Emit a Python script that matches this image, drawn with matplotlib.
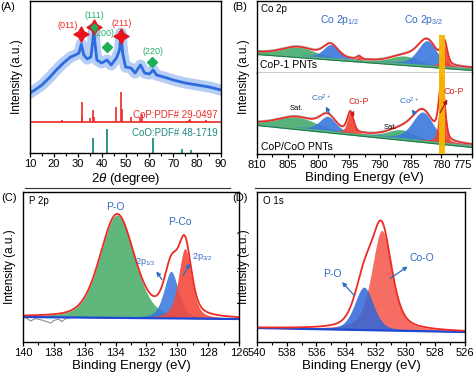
import numpy as np
import matplotlib
matplotlib.use("Agg")
import matplotlib.pyplot as plt
from matplotlib import font_manager
from matplotlib.ticker import MultipleLocator

names = {f.name for f in font_manager.fontManager.ttflist}
FONT = "Liberation Sans Narrow" if "Liberation Sans Narrow" in names else "Liberation Sans"
plt.rcParams["font.family"] = [FONT, "DejaVu Sans"]
plt.rcParams["mathtext.fontset"] = "custom"
plt.rcParams["mathtext.rm"] = FONT
plt.rcParams["mathtext.it"] = FONT + ":italic"

# ---------------- (A) XRD ----------------
xrd_2theta = [10, 12, 15, 18, 21, 24, 27, 29, 30.5, 31.5, 32.5, 34, 35.5, 36.3, 36.7,
              37.2, 38, 40, 42.3, 44, 46.2, 47.5, 48.1, 48.8, 50, 52.3, 54, 56.3, 58,
              60, 61.6, 63, 66, 70, 75, 80, 85, 90]
xrd_counts = [60, 63, 68, 75, 83, 90, 96, 98, 100, 109, 98, 94, 96, 112, 125,
              110, 93, 90, 93, 88, 95, 103, 120, 100, 86, 85, 80, 88, 80,
              79, 83, 78, 76, 73, 70, 68, 66, 63]

cop_pos = [23.5, 31.6, 31.9, 35.3, 36.3, 36.7, 45.1, 46.2, 48.1, 48.4, 52.3, 56.0,
           56.8, 58.2, 62.0, 64.6, 68.8, 72.0, 75.9, 76.6, 77.1, 77.6, 80.0, 83.7]
cop_int = [2, 20.5, 5, 4.5, 12, 5, 1, 15.5, 30.5, 13, 5.5, 5,
           8.5, 1, 1, 0.6, 0.6, 0.6, 1, 2, 3, 1.2, 1, 2]
cop_base = 31
coo_pos = [36.5, 42.4, 61.5, 73.7, 77.6]
coo_int = [15, 24, 15, 4, 3]

cop_star_x = [31.3, 36.6, 48.0]
cop_star_y = [119, 126, 117]
coo_dia_x = [42.1, 61.2]
coo_dia_y = [106, 91]
red_hkl = ["(011)", "(211)"]
red_hkl_x = [25.9, 48.4]
red_hkl_y = [128, 130]
green_hkl = ["(111)", "(200)", "(220)"]
green_hkl_x = [36.9, 41.2, 61.6]
green_hkl_y = [137, 119, 102]

# ---------------- (B) Co 2p ----------------
# components: centre (eV), height, fwhm
b1_base = [21, 5]
b1_sat_c, b1_sat_h, b1_sat_w = [803.3, 786.0], [8, 7], [6.0, 5.0]
b1_blue_c, b1_blue_h, b1_blue_w = [798.0, 782.3], [13, 24], [2.8, 3.6]
b1_red_c, b1_red_h, b1_red_w = [793.4, 779.5], [3, 21], [0.8, 1.1]

b2_base = [31, 9]
b2_sat_c, b2_sat_h, b2_sat_w = [803.5, 786.5], [10, 8], [7.0, 5.0]
b2_blue_c, b2_blue_h, b2_blue_w = [798.5, 783.0], [14, 28], [3.0, 4.0]
b2_red_c, b2_red_h, b2_red_w = [794.8, 779.9], [20, 58], [1.2, 1.1]

band_center = 779.9
b_ticks = [810, 805, 800, 795, 790, 785, 780, 775]

# ---------------- (C) P 2p ----------------
c_base = [25, 23]
c_cen = [133.9, 130.4, 129.5]
c_hgt = [103, 47, 70]
c_fwhm = [2.6, 1.1, 1.0]
c_eta = [0.3, 0.5, 0.5]
c_raw_x = [140, 139.8, 139.5, 139.2, 138.8, 138.5, 138.2, 138.0, 137.7, 137.5, 137.2, 136.9, 136.6]
c_raw_y = [25, 24, 21, 23.5, 22, 20.5, 19, 21.5, 23, 20.5, 23.5, 24.5, 26]

# ---------------- (D) O 1s ----------------
d_base = [14, 10]
d_cen = [532.8, 531.6]
d_hgt = [43, 100]
d_fwhm = [1.5, 1.6]
d_eta = [0.4, 0.5]

RED = "#ee2a24"
BLUE = "#3b78dd"
GREEN = "#3aa564"
TXTBLUE = "#2f6cc4"
TICK_FS = 8
XLAB_FS = 9.5
YLAB_FS = 8.5


def pv(x, c, h, w, eta=0.3):
    g = np.exp(-4 * np.log(2) * (x - c) ** 2 / w ** 2)
    l = 1 / (1 + 4 * (x - c) ** 2 / w ** 2)
    return h * (eta * l + (1 - eta) * g)


def frame(ax, lw=1.0):
    for s in ax.spines.values():
        s.set_linewidth(lw)
    ax.set_yticks([])
    ax.tick_params(axis="x", direction="out", length=3, width=0.9, pad=1.5, labelsize=TICK_FS)
    ax.tick_params(axis="x", which="minor", length=2, width=0.8)


W, H = 474, 377
fig = plt.figure(figsize=(W / 100, H / 100), dpi=100)


def box(l, t, r, b):
    return [l / W, 1 - b / H, (r - l) / W, (b - t) / H]


# ---- A ----
axA = fig.add_axes(box(30, 1, 221, 153))
frame(axA)
axA.set_xlim(10, 90)
axA.set_ylim(0, 152)
axA.xaxis.set_major_locator(MultipleLocator(10))
axA.xaxis.set_minor_locator(MultipleLocator(5))
axA.plot(xrd_2theta, xrd_counts, color="#7aa6f0", lw=8, alpha=0.55, solid_joinstyle="round")
axA.plot(xrd_2theta, xrd_counts, color="#2d6be0", lw=2.0)
axA.axhline(cop_base, color=RED, lw=1.2)
axA.vlines(cop_pos, cop_base, [cop_base + v for v in cop_int], color=RED, lw=1.2)
axA.vlines(coo_pos, 0, coo_int, color="#1f8a7e", lw=1.3)
axA.plot(cop_star_x, cop_star_y, ls="none", marker=(4, 1, 0), ms=11, color="#e8141c")
axA.plot(cop_star_x[1], cop_star_y[1], ls="none", marker="D", ms=3.5, color="#1fae55")
axA.plot(coo_dia_x, coo_dia_y, ls="none", marker="D", ms=5.5, color="#1fae55")
for t, x, y in zip(red_hkl, red_hkl_x, red_hkl_y):
    axA.text(x, y, t, color=RED, fontsize=6.5, ha="center", va="center")
for t, x, y in zip(green_hkl, green_hkl_x, green_hkl_y):
    axA.text(x, y, t, color="#27b36a", fontsize=6.5, ha="center", va="center")
axA.text(88.7, 38, "CoP:PDF# 29-0497", color=RED, fontsize=7, ha="right", va="center")
axA.text(88.7, 20, "CoO:PDF# 48-1719", color="#1f8a7e", fontsize=7, ha="right", va="center")
axA.set_xlabel(r"2$\theta$ (degree)", fontsize=XLAB_FS, labelpad=1)
axA.set_ylabel("Intensity (a.u.)", fontsize=YLAB_FS, labelpad=5)

# ---- B ----
xb = np.linspace(810, 775, 700)


def xps_b(ax, base, sat, blue, red, ymax, band_top):
    bg = np.interp(xb, [775, 810], base[::-1])
    sat_sum = sum(pv(xb, c, h, w, 0.1) for c, h, w in zip(*sat))
    blue_sum = [pv(xb, c, h, w, 0.3) for c, h, w in zip(*blue)]
    red_sum = [pv(xb, c, h, w, 0.3) for c, h, w in zip(*red)]
    ax.fill_between(xb, bg - 2.5, bg + sat_sum, color=GREEN, alpha=0.85, lw=0)
    ax.plot(xb, bg - 2.5, color="#1f7a4a", lw=0.8)
    for comp in blue_sum:
        ax.fill_between(xb, bg, bg + comp, where=comp > 0.3, color=BLUE, alpha=0.9, lw=0)
    for comp in red_sum:
        ax.fill_between(xb, bg, bg + comp, where=comp > 0.3, color="#f2442e", alpha=0.9, lw=0)
    env = bg + sat_sum + sum(blue_sum) + sum(red_sum)
    ax.plot(xb, env + 0.8, color="#b0a8a8", lw=1.0)
    ax.plot(xb, env, color=RED, lw=1.2)
    ax.set_xlim(810, 775)
    ax.set_ylim(0, ymax)
    ax.axvspan(band_center - 0.45, band_center + 0.45, ymin=0, ymax=band_top,
               color="#f7b500", alpha=0.95, lw=0, zorder=3)


axB1 = fig.add_axes(box(257, 1, 472, 73))
frame(axB1)
xps_b(axB1, b1_base, (b1_sat_c, b1_sat_h, b1_sat_w), (b1_blue_c, b1_blue_h, b1_blue_w),
      (b1_red_c, b1_red_h, b1_red_w), 72, 0.53)
axB1.set_xticks([])
axB1.text(0.02, 0.96, "Co 2p", transform=axB1.transAxes, fontsize=7, va="top")
axB1.text(796.6, 53, r"Co 2p$_{1/2}$", color=TXTBLUE, fontsize=7.5, ha="center", va="center")
axB1.text(782.9, 53, r"Co 2p$_{3/2}$", color=TXTBLUE, fontsize=7.5, ha="center", va="center")
axB1.text(809.5, 8, "CoP-1 PNTs", fontsize=7.5, ha="left", va="center")

axB2 = fig.add_axes(box(257, 73, 472, 154))
frame(axB2)
xps_b(axB2, b2_base, (b2_sat_c, b2_sat_h, b2_sat_w), (b2_blue_c, b2_blue_h, b2_blue_w),
      (b2_red_c, b2_red_h, b2_red_w), 81, 1.0)
axB2.set_xticks(b_ticks, [str(t) for t in b_ticks])
axB2.get_xticklabels()[-1].set_horizontalalignment("right")
axB2.xaxis.set_minor_locator(MultipleLocator(2.5))
axB2.spines["top"].set_visible(False)
axB2.text(809.3, 7, "CoP/CoO PNTs", fontsize=7.5, ha="left", va="center")
axB2.text(803.5, 46, "Sat.", fontsize=5.5, ha="center", va="center")
axB2.text(788.2, 27, "Sat.", fontsize=5.5, ha="center", va="center")
axB2.text(799.5, 56, r"Co$^{2+}$", color=TXTBLUE, fontsize=6, ha="center", va="center")
axB2.text(785.2, 53, r"Co$^{2+}$", color=TXTBLUE, fontsize=6, ha="center", va="center")
axB2.text(793.5, 52, "Co-P", color="#d8231f", fontsize=6.5, ha="center", va="center")
axB2.text(778.0, 63, "Co-P", color="#d8231f", fontsize=6.5, ha="center", va="center")
arr = dict(arrowstyle="-|>", lw=0.9, mutation_scale=6)
axB2.annotate("", xy=(799.0, 50), xytext=(798.0, 38), arrowprops=dict(color="#2a6fc0", **arr))
axB2.annotate("", xy=(794.0, 46), xytext=(794.6, 38), arrowprops=dict(color="#c41e1e", **arr))
axB2.annotate("", xy=(785.0, 47), xytext=(784.2, 39), arrowprops=dict(color="#2a6fc0", **arr))
axB2.annotate("", xy=(778.8, 57), xytext=(780.4, 39), arrowprops=dict(color="#a01818", **arr))
axB2.set_xlabel("Binding Energy (eV)", fontsize=XLAB_FS, labelpad=1)
fig.text(244 / W, 1 - 77 / H, "Intensity (a.u.)", rotation=90, fontsize=YLAB_FS,
         ha="center", va="center")

# ---- C ----
axC = fig.add_axes(box(23, 192, 239, 342))
frame(axC)
xc = np.linspace(140, 126, 700)
bgc = np.interp(xc, [126, 140], c_base[::-1])
comps = [pv(xc, c, h, w, e) for c, h, w, e in zip(c_cen, c_hgt, c_fwhm, c_eta)]
axC.fill_between(xc, bgc, bgc + comps[0], color="#4fb06d", alpha=0.9, lw=0)
axC.fill_between(xc, bgc, bgc + comps[1], color="#3674dc", alpha=0.85, lw=0)
axC.fill_between(xc, bgc, bgc + comps[2], color="#f4493c", alpha=0.9, lw=0)
axC.plot(c_raw_x, c_raw_y, color="#8f8f8f", lw=0.8)
axC.plot(xc, bgc, color="#1d49d6", lw=1.6)
axC.plot(xc, bgc + sum(comps), color=RED, lw=1.3)
axC.set_xlim(140, 126)
axC.set_ylim(0, 150)
axC.xaxis.set_major_locator(MultipleLocator(2))
axC.xaxis.set_minor_locator(MultipleLocator(1))
axC.text(0.03, 0.97, "P 2p", transform=axC.transAxes, fontsize=7, va="top")
axC.text(134.0, 135, "P-O", color=TXTBLUE, fontsize=7.5, ha="center", va="center")
axC.text(129.8, 120, "P-Co", color=TXTBLUE, fontsize=7.5, ha="center", va="center")
axC.text(132.1, 80, r"2p$_{1/2}$", color=TXTBLUE, fontsize=6.5, ha="center", va="center")
axC.text(128.35, 85, r"2p$_{3/2}$", color=TXTBLUE, fontsize=6.5, ha="center", va="center")
axC.annotate("", xy=(131.45, 73), xytext=(130.9, 60), arrowprops=dict(color="#2a6fc0", **arr))
axC.annotate("", xy=(129.1, 81), xytext=(129.7, 64), arrowprops=dict(color="#2a6fc0", **arr))
axC.set_xlabel("Binding Energy (eV)", fontsize=XLAB_FS, labelpad=1)
axC.set_ylabel("Intensity (a.u.)", fontsize=YLAB_FS, labelpad=5)

# ---- D ----
axD = fig.add_axes(box(257, 192, 465, 342))
frame(axD)
xd = np.linspace(540, 526, 700)
bgd = np.interp(xd, [526, 540], d_base[::-1])
dcomp = [pv(xd, c, h, w, e) for c, h, w, e in zip(d_cen, d_hgt, d_fwhm, d_eta)]
axD.fill_between(xd, bgd, bgd + dcomp[1], color="#f4493c", alpha=0.8, lw=0)
axD.fill_between(xd, bgd, bgd + dcomp[0], color="#2f66d8", alpha=0.85, lw=0)
axD.plot(xd, bgd, color="#1d49d6", lw=1.6)
axD.plot(xd, bgd + sum(dcomp), color=RED, lw=1.3)
axD.set_xlim(540, 526)
axD.set_ylim(0, 150)
axD.xaxis.set_major_locator(MultipleLocator(2))
axD.xaxis.set_minor_locator(MultipleLocator(1))
axD.text(0.03, 0.97, "O 1s", transform=axD.transAxes, fontsize=7, va="top")
axD.text(534.95, 68, "P-O", color=TXTBLUE, fontsize=7.5, ha="center", va="center")
axD.text(528.9, 84, "Co-O", color=TXTBLUE, fontsize=7.5, ha="center", va="center")
axD.annotate("", xy=(534.4, 62), xytext=(533.3, 44), arrowprops=dict(color="#2a6fc0", **arr))
axD.annotate("", xy=(529.7, 77), xytext=(531.2, 62), arrowprops=dict(color="#2a6fc0", **arr))
axD.set_xlabel("Binding Energy (eV)", fontsize=XLAB_FS, labelpad=1)
axD.set_ylabel("Intensity (a.u.)", fontsize=YLAB_FS, labelpad=5)

# panel letters and separator lines
for lab, x, y in [("(A)", 0, 7), ("(B)", 232, 7), ("(C)", 1, 198), ("(D)", 232, 198)]:
    fig.text(x / W, 1 - y / H, lab, fontsize=8, ha="left", va="center")
for x0, x1 in [(25, 230), (255, 470)]:
    fig.add_artist(plt.Line2D([x0 / W, x1 / W], [1 - 188 / H] * 2, color="#333333", lw=0.8))

fig.savefig("out.png", dpi=100)
